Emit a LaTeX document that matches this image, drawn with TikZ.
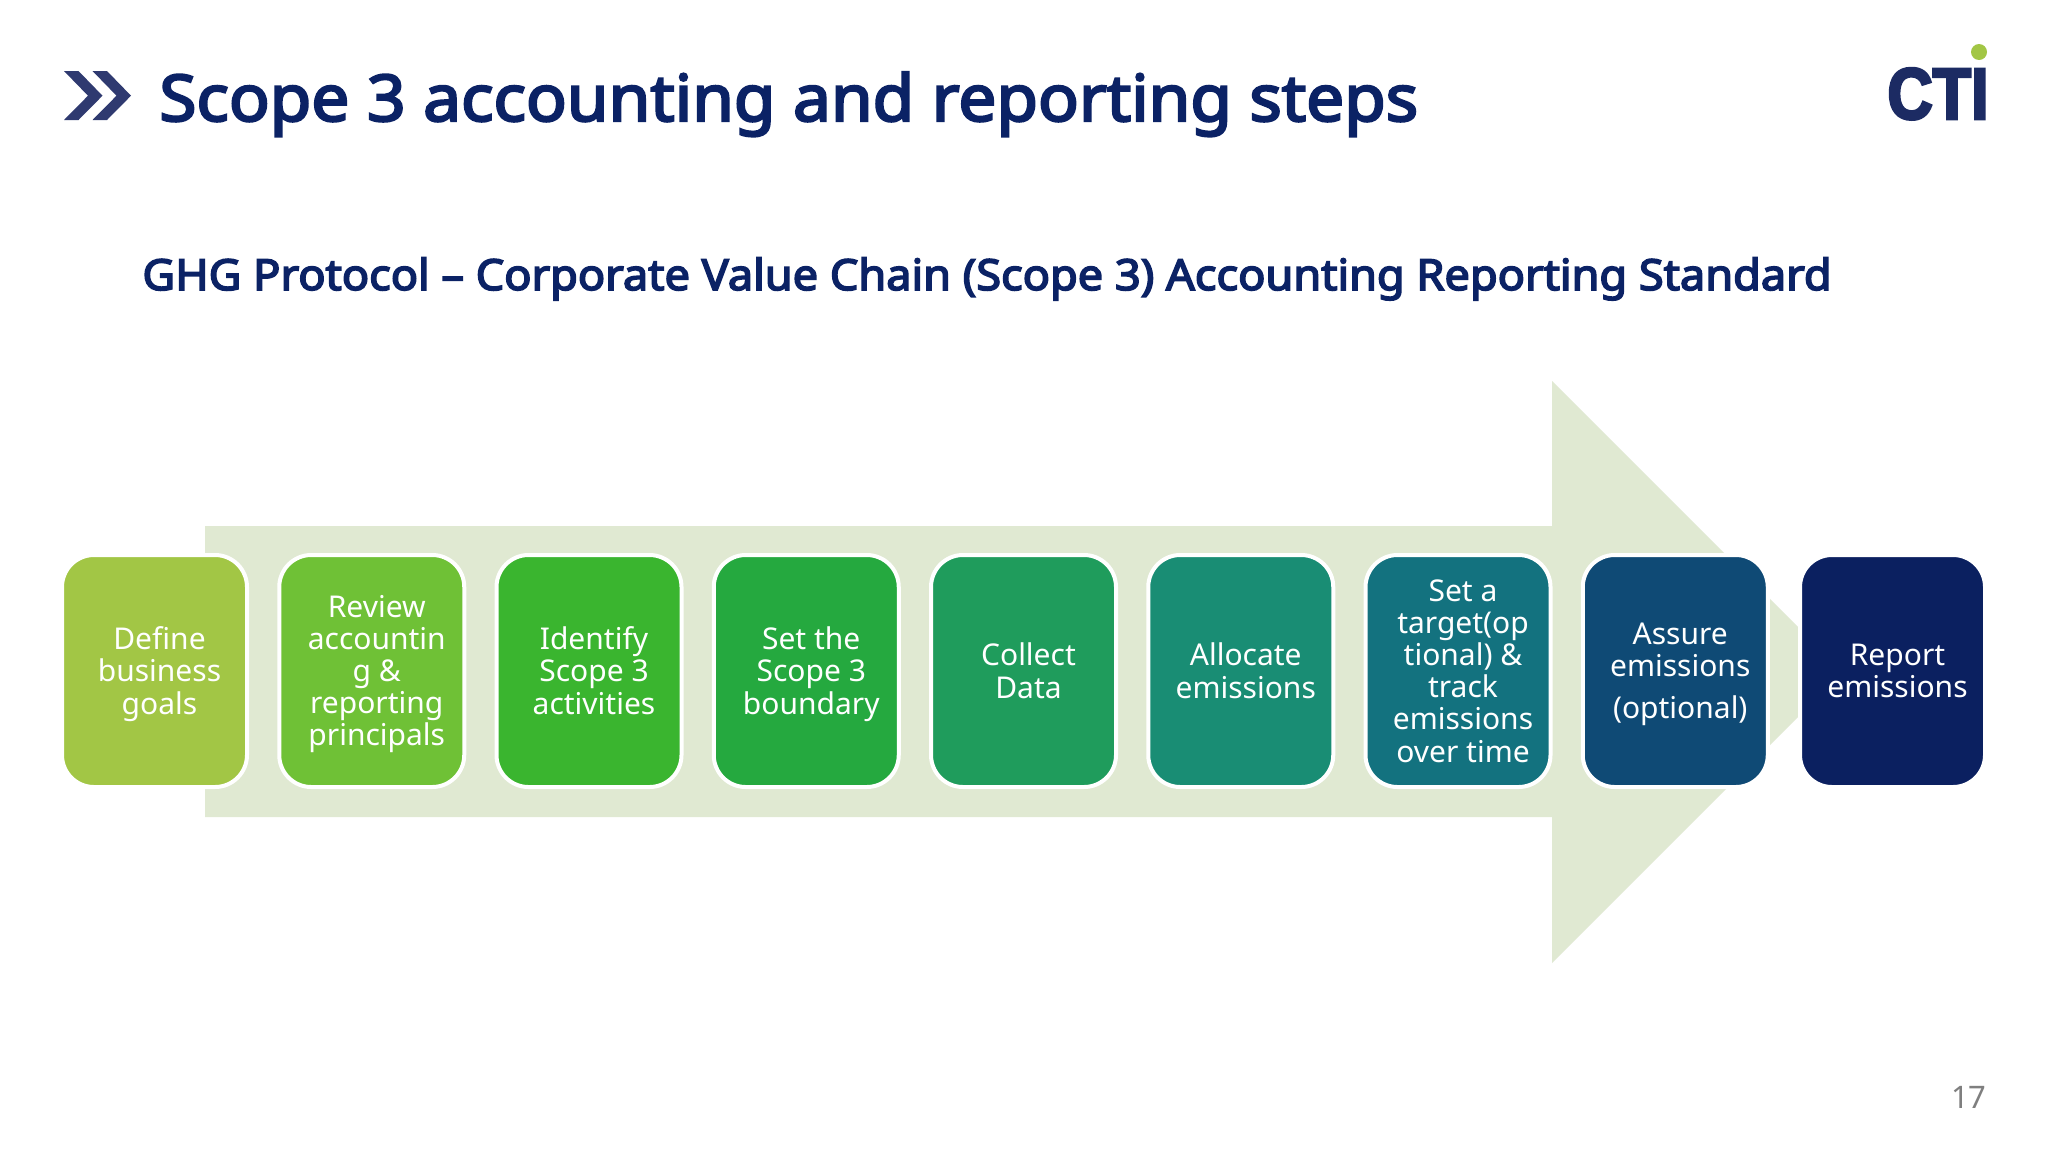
\documentclass[tikz,border=0pt]{standalone}
\usepackage{fontspec}
\setmainfont{Noto Sans}
\newfontfamily\headfont[FakeBold=3.5,FakeStretch=1.049]{Noto Sans}
\newfontfamily\subheadfont[FakeBold=3.8,FakeStretch=1.054]{Noto Sans}
\newfontfamily\logofont[FakeBold=3.5,FakeStretch=0.86]{Liberation Sans Bold}
\definecolor{navy}{HTML}{0B2265}
\definecolor{arrowgreen}{HTML}{E0E9D2}
\definecolor{chev}{HTML}{2F3A70}
\definecolor{logonavy}{HTML}{1C2B63}
\definecolor{dotgreen}{HTML}{A2C645}
\definecolor{pagegrey}{HTML}{7F7F7F}
\definecolor{ca}{HTML}{A2C645}
\definecolor{cb}{HTML}{6FC136}
\definecolor{cc}{HTML}{3AB52F}
\definecolor{cd}{HTML}{25A93F}
\definecolor{ce}{HTML}{1F9C5C}
\definecolor{cf}{HTML}{198D74}
\definecolor{cg}{HTML}{13727F}
\definecolor{ch}{HTML}{0F4A75}
\definecolor{ci}{HTML}{0B2060}
\newcommand{\tl}{\rule{0pt}{11pt}}
\newcommand{\bl}{\rule[-4pt]{0pt}{4pt}}
\tikzset{
  stepbox/.style={rounded corners=16pt,line width=2pt,draw=white},
  steptext/.style={text=white,align=center,font=\fontsize{15}{16.1}\selectfont,inner sep=0pt},
  chevron/.style={fill=chev,draw=none}
}
\newcommand{\stepitem}[4]{%
  \path[stepbox,fill=#2] (#1-2,555) rectangle (#1+183,787);
  \coordinate (#3c) at (#1+95.5,674.5);
  \node[steptext] (#3) at (#3c) {\tl #4\bl};
}
\begin{document}
\begin{tikzpicture}[x=0.5pt,y=-0.5pt]
\useasboundingbox (0,0) rectangle (2048,1152);
\fill[white] (0,0) rectangle (2048,1152);
\fill[chevron] (64,71)--(78.5,71)--(102.5,95.7)--(78.5,120)--(64,120)--(88,95.7)--cycle;
\fill[chevron] (92.5,71)--(107,71)--(131,95.7)--(107,120)--(92.5,120)--(116.5,95.7)--cycle;
\node[anchor=base west,inner sep=0pt,text=navy,font=\headfont\fontsize{32.2}{36}\selectfont] (title) at (159,121) {Scope 3 accounting and reporting steps};
\node[anchor=base west,inner sep=0pt,text=navy,font=\subheadfont\fontsize{21.4}{26}\selectfont] (subtitle) at (142,290) {GHG Protocol – Corporate Value Chain (Scope 3) Accounting Reporting Standard};
\node[anchor=base,inner sep=0pt,text=logonavy,font=\logofont\fontsize{36.5}{36}\selectfont] (logo) at (1938,119) {CTI};
\fill[dotgreen] (1979,52) circle (8);
\fill[arrowgreen] (205,526)--(1552,526)--(1552,381)--(1843,672)--(1552,963)--(1552,817)--(205,817)--cycle;
\stepitem{64}{ca}{a}{Define\\business\\goals}
\stepitem{281.25}{cb}{b}{Review\\accountin\\g \&\\reporting\\principals}
\stepitem{498.5}{cc}{c}{Identify\\Scope 3\\activities}
\stepitem{715.75}{cd}{d}{Set the\\Scope 3\\boundary}
\stepitem{933}{ce}{e}{Collect\\Data}
\stepitem{1150.25}{cf}{f}{Allocate\\emissions}
\stepitem{1367.5}{cg}{g}{Set a\\target(op\\tional) \&\\track\\emissions\\over time}
\stepitem{1584.75}{ch}{h}{Assure\\emissions\\[5pt](optional)}
\stepitem{1802}{ci}{i}{Report\\emissions}
\node[anchor=base east,inner sep=0pt,text=pagegrey,font=\fontsize{15.5}{18}\selectfont] (page) at (1987,1108) {17};
\end{tikzpicture}
\end{document}
